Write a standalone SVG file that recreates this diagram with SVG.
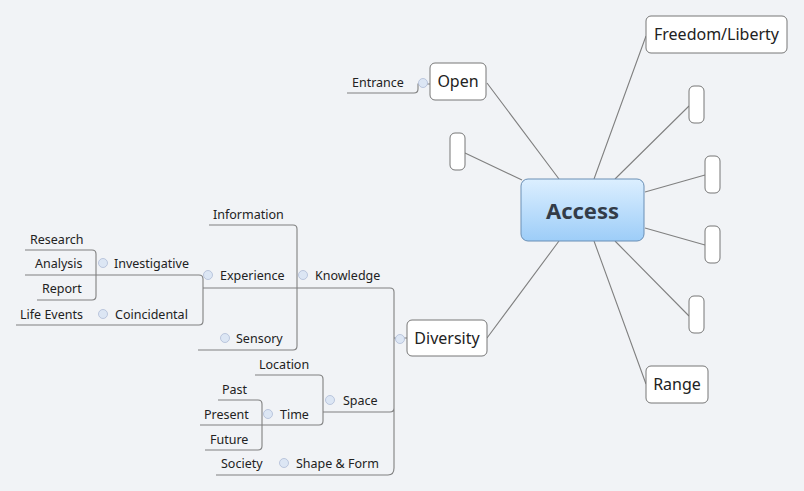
<svg xmlns="http://www.w3.org/2000/svg" width="804" height="491" viewBox="0 0 804 491">
<defs>
<linearGradient id="g" x1="0" y1="0" x2="0" y2="1"><stop offset="0" stop-color="#dcefff"/><stop offset="1" stop-color="#9dcdf8"/></linearGradient>
<style>
.t{font-family:"Noto Sans","Open Sans",sans-serif;fill:#222}
.s{font-size:12.5px}
.b{font-size:16px}
.box{fill:#fff;stroke:#777;stroke-width:1}
.l{fill:none;stroke:#808080;stroke-width:1.1}
.c{fill:#dce6f4;stroke:#aebbd6;stroke-width:0.8}
</style>
</defs>
<rect width="804" height="491" fill="#f1f3f6"/>
<g id="connectors" class="l">
<path d="M487 83L559 179M646 36L594 179M689 106L615 179M705 175L645 192M705 245L645 228M689 316L615 241M646 384L594 241M487 338L559 241M465 153L522 180"/>
<path d="M347 93H414Q418 93 418 89V84H430"/>
<path d="M407 338H394M394 292V468Q394 475 388 475H216M394 292Q394 288 390 288H203M394 408Q394 412 390 412H323"/>
<path d="M209 225H293Q297 225 297 229V346Q297 350 293 350H198"/>
<path d="M25 275H199Q203 275 203 279V321Q203 325 199 325H16"/>
<path d="M25 250H92Q96 250 96 254V296Q96 300 92 300H37"/>
<path d="M255 375H319Q323 375 323 379V421Q323 425 319 425H200"/>
<path d="M218 400H258Q262 400 262 404V446Q262 450 258 450H205"/>
</g>
<g id="access"><rect x="521" y="179" width="123" height="62" rx="7" fill="url(#g)" stroke="#6a8fb5"/><text x="582.5" y="219" text-anchor="middle" font-family="Noto Sans,Open Sans,sans-serif" font-weight="bold" font-size="22" fill="#333c48">Access</text></g>
<g id="open"><rect class="box" x="430" y="63" width="56" height="37" rx="5"/><text class="t b" x="458" y="87" text-anchor="middle">Open</text></g>
<g id="freedom"><rect class="box" x="646" y="16" width="141" height="37" rx="5"/><text class="t b" x="716.5" y="40" text-anchor="middle">Freedom/Liberty</text></g>
<g id="range"><rect class="box" x="646" y="366" width="62" height="37" rx="5"/><text class="t b" x="677" y="390" text-anchor="middle">Range</text></g>
<g id="diversity"><rect class="box" x="407" y="320" width="80" height="36" rx="5"/><text class="t b" x="447" y="344" text-anchor="middle">Diversity</text></g>
<g id="blank1"><rect class="box" x="450" y="133" width="15" height="37" rx="5"/></g>
<g id="blank2"><rect class="box" x="689" y="86" width="15" height="37" rx="5"/></g>
<g id="blank3"><rect class="box" x="705" y="156" width="15" height="37" rx="5"/></g>
<g id="blank4"><rect class="box" x="705" y="226" width="15" height="37" rx="5"/></g>
<g id="blank5"><rect class="box" x="689" y="296" width="15" height="37" rx="5"/></g>
<g id="collapsers"><circle class="c" cx="423" cy="83" r="4.5"/><circle class="c" cx="400" cy="339" r="4.5"/><circle class="c" cx="303" cy="275" r="4.5"/><circle class="c" cx="208" cy="275" r="4.5"/><circle class="c" cx="103" cy="263" r="4.5"/><circle class="c" cx="103" cy="314" r="4.5"/><circle class="c" cx="225" cy="338" r="4.5"/><circle class="c" cx="330" cy="400" r="4.5"/><circle class="c" cx="268" cy="414" r="4.5"/><circle class="c" cx="284" cy="463" r="4.5"/></g>
<g id="entrance"><text class="t s" x="352" y="87">Entrance</text></g>
<g id="knowledge"><text class="t s" x="315" y="280">Knowledge</text></g>
<g id="information"><text class="t s" x="213" y="219">Information</text></g>
<g id="sensory"><text class="t s" x="236" y="343">Sensory</text></g>
<g id="experience"><text class="t s" x="220" y="280">Experience</text></g>
<g id="investigative"><text class="t s" x="114" y="268">Investigative</text></g>
<g id="research"><text class="t s" x="30" y="244">Research</text></g>
<g id="analysis"><text class="t s" x="35" y="268">Analysis</text></g>
<g id="report"><text class="t s" x="42" y="293">Report</text></g>
<g id="coincidental"><text class="t s" x="115" y="319">Coincidental</text></g>
<g id="lifeevents"><text class="t s" x="20" y="319">Life Events</text></g>
<g id="space"><text class="t s" x="343" y="405">Space</text></g>
<g id="location"><text class="t s" x="259" y="369">Location</text></g>
<g id="time"><text class="t s" x="280" y="419">Time</text></g>
<g id="past"><text class="t s" x="222" y="394">Past</text></g>
<g id="present"><text class="t s" x="204" y="419">Present</text></g>
<g id="future"><text class="t s" x="210" y="444">Future</text></g>
<g id="shape"><text class="t s" x="296" y="468">Shape &amp; Form</text></g>
<g id="society"><text class="t s" x="221" y="468">Society</text></g>
</svg>
